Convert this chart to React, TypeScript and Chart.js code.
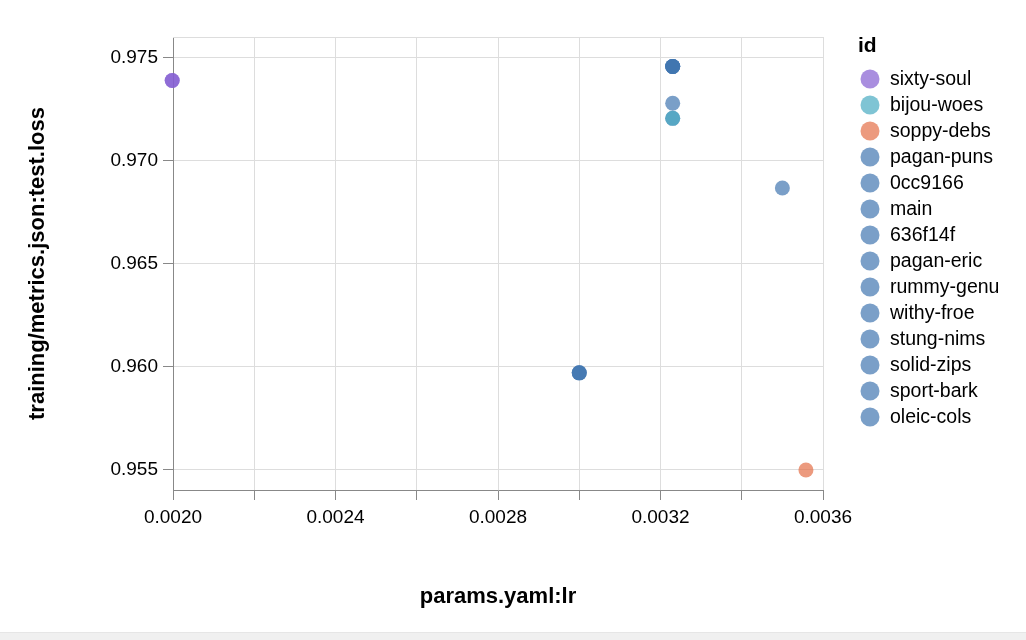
import React, { useEffect, useRef } from 'react';
import { Chart, registerables } from 'chart.js';

Chart.register(...registerables);

// ---- data ----
const ids = [
  'sixty-soul', 'bijou-woes', 'soppy-debs', 'pagan-puns', '0cc9166', 'main', '636f14f',
  'pagan-eric', 'rummy-genu', 'withy-froe', 'stung-nims', 'solid-zips', 'sport-bark', 'oleic-cols',
];
// params.yaml:lr per id (points)
const lrValues: number[][] = [
  [0.001998, 0.001998],
  [0.00323],
  [0.003558],
  [0.00323],
  [0.00323],
  [0.003],
  [0.00323],
  [0.00323],
  [0.003],
  [0.00323],
  [0.0035],
  [0.00323],
  [0.003],
  [0.00323],
];
// training/metrics.json:test.loss per id (points)
const lossValues: number[][] = [
  [0.97389, 0.97389],
  [0.97205],
  [0.95497],
  [0.97457],
  [0.97457],
  [0.95969],
  [0.97457],
  [0.97278],
  [0.95969],
  [0.97457],
  [0.96867],
  [0.97205],
  [0.95969],
  [0.97457],
];
const seriesColors = [
  '132,94,210', '72,171,194', '228,111,71',
  '66,118,176', '66,118,176', '66,118,176', '66,118,176', '66,118,176', '66,118,176',
  '66,118,176', '66,118,176', '66,118,176', '66,118,176', '66,118,176',
];
const xTickValues = [0.002, 0.0022, 0.0024, 0.0026, 0.0028, 0.003, 0.0032, 0.0034, 0.0036];
const xTickLabels = ['0.0020', '', '0.0024', '', '0.0028', '', '0.0032', '', '0.0036'];
const yTickValues = [0.955, 0.96, 0.965, 0.97, 0.975];
const yTickLabels = ['0.955', '0.960', '0.965', '0.970', '0.975'];
const xTitle = 'params.yaml:lr';
const yTitle = 'training/metrics.json:test.loss';
const legendTitle = 'id';

const FONT = "'Liberation Sans', Arial, Helvetica, sans-serif";

const topLinePlugin = {
  id: 'topLine',
  beforeDatasetsDraw(chart: any) {
    const { ctx, chartArea } = chart;
    ctx.save();
    ctx.strokeStyle = '#dddddd';
    ctx.lineWidth = 1;
    ctx.beginPath();
    ctx.moveTo(chartArea.left, Math.round(chartArea.top) + 0.5);
    ctx.lineTo(chartArea.right, Math.round(chartArea.top) + 0.5);
    ctx.stroke();
    ctx.restore();
  },
};

const legendPlugin = {
  id: 'sideLegend',
  afterDraw(chart: any) {
    const { ctx } = chart;
    ctx.save();
    ctx.fillStyle = '#000';
    ctx.textBaseline = 'middle';
    ctx.textAlign = 'left';
    ctx.font = `bold 21px ${FONT}`;
    ctx.fillText(legendTitle, 858, 46);
    ctx.font = `19.5px ${FONT}`;
    ids.forEach((id, i) => {
      const y = 79 + i * 26;
      ctx.beginPath();
      ctx.arc(870, y, 9.5, 0, Math.PI * 2);
      ctx.fillStyle = `rgba(${seriesColors[i]},0.7)`;
      ctx.fill();
      ctx.fillStyle = '#000';
      ctx.fillText(id, 890, y + 1);
    });
    ctx.restore();
  },
};

export default function App() {
  const ref = useRef<HTMLCanvasElement | null>(null);
  useEffect(() => {
    if (!ref.current) return;
    const datasets = ids.map((id, i) => ({
      label: id,
      data: lrValues[i].map((x, j) => ({ x, y: lossValues[i][j] })),
      backgroundColor: `rgba(${seriesColors[i]},0.7)`,
      borderWidth: 0,
      pointRadius: 7.5,
      pointHoverRadius: 7.5,
      clip: false as any,
    }));
    const chart = new Chart(ref.current, {
      type: 'scatter',
      data: { datasets },
      plugins: [topLinePlugin, legendPlugin],
      options: {
        animation: false,
        responsive: false,
        maintainAspectRatio: false,
        layout: { padding: { top: 37, right: 203, left: 0, bottom: 0 } },
        plugins: { legend: { display: false }, tooltip: { enabled: false } },
        scales: {
          x: {
            type: 'linear',
            min: 0.002,
            max: 0.0036,
            afterBuildTicks: (scale: any) => {
              scale.ticks = xTickValues.map((v) => ({ value: v }));
            },
            afterFit: (scale: any) => {
              scale.height = 142;
            },
            ticks: {
              autoSkip: false,
              maxRotation: 0,
              padding: 6,
              color: '#000',
              font: { family: FONT, size: 19 },
              callback: (_v: any, i: number) => xTickLabels[i],
            },
            grid: { color: '#dddddd', tickColor: '#888888', tickLength: 10, lineWidth: 1 },
            border: { color: '#888888', width: 1 },
            title: {
              display: true,
              text: xTitle,
              color: '#000',
              font: { family: FONT, size: 22, weight: 'bold' },
              padding: { top: 0, bottom: 22 },
            },
          },
          y: {
            type: 'linear',
            min: 0.954,
            max: 0.976,
            afterBuildTicks: (scale: any) => {
              scale.ticks = yTickValues.map((v) => ({ value: v }));
            },
            afterFit: (scale: any) => {
              scale.width = 173;
            },
            ticks: {
              autoSkip: false,
              padding: 5,
              color: '#000',
              font: { family: FONT, size: 19 },
              callback: (_v: any, i: number) => yTickLabels[i],
            },
            grid: { color: '#dddddd', tickColor: '#888888', tickLength: 10, lineWidth: 1 },
            border: { color: '#888888', width: 1 },
            title: {
              display: true,
              text: yTitle,
              color: '#000',
              font: { family: FONT, size: 22, weight: 'bold' },
              padding: { top: 25, bottom: 0 },
            },
          },
        },
      },
    });
    return () => chart.destroy();
  }, []);
  return (
    <div style={{ position: 'fixed', left: 0, top: 0, width: 1026, height: 640, background: '#fff' }}>
      <canvas ref={ref} width={1026} height={632} style={{ display: 'block', width: 1026, height: 632 }} />
      <div style={{ position: 'absolute', left: 0, top: 632, width: 1026, height: 8, background: '#f0f0f0', borderTop: '1px solid #e6e6e6', boxSizing: 'border-box' }} />
    </div>
  );
}
